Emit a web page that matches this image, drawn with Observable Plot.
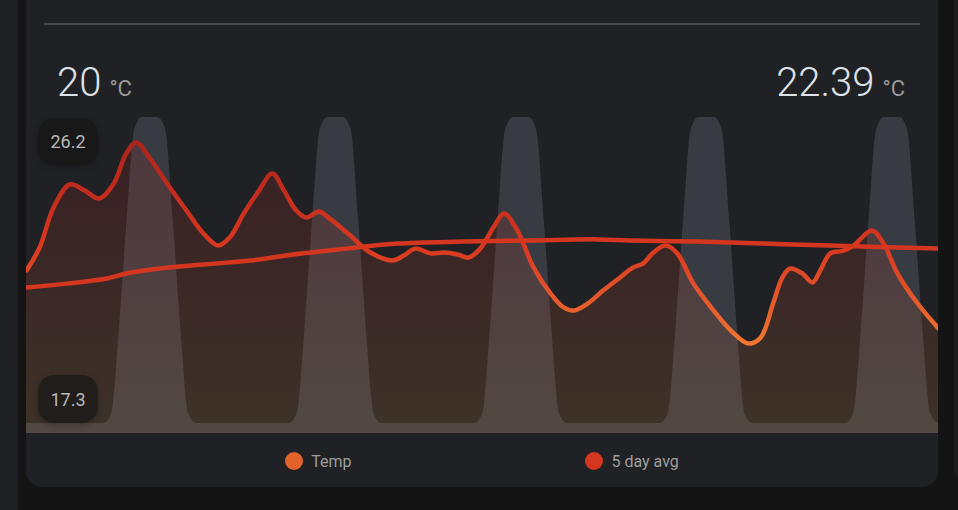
<!DOCTYPE html>
<html>
<head>
<meta charset="utf-8">
<script src="https://cdn.jsdelivr.net/npm/d3@7"></script>
<script src="https://cdn.jsdelivr.net/npm/@observablehq/plot@0.6"></script>
<style>
  html, body { margin: 0; padding: 0; width: 958px; height: 510px; overflow: hidden; background: #141414; font-family: Roboto, "Noto Sans", sans-serif; }
  .abs { position: absolute; }
  #leftCard { left: 0; top: 0; width: 18px; height: 510px; background: #1f2023; }
  #rightCard { left: 954px; top: 0; width: 20px; height: 482px; background: #1d1e20; border-radius: 0 0 0 14px; }
  #card { left: 26px; top: -20px; width: 912px; height: 507px; background: #202124; border-radius: 0 0 16px 16px; }
  #divider { left: 44px; top: 23px; width: 876px; height: 2px; background: #47484b; }
  .state { display: flex; align-items: baseline; top: 63px; }
  .state .val { font-size: 40px; line-height: 40px; font-weight: 300; color: #dde2e8; }
  .state .uom { font-size: 22px; line-height: 22px; font-weight: 400; color: #9b9b9b; margin-left: 8px; }
  #stateL { left: 57px; }
  #stateR { right: 53px; }
  #chart { left: 26px; top: 117px; width: 912px; height: 316px; overflow: hidden; }
  #chart svg { position: absolute; left: 0; top: 0; background: transparent; }
  .badge { left: 38px; width: 60px; border-radius: 16px; background: rgba(20,20,20,0.68); box-shadow: 0 2px 6px rgba(0,0,0,0.25); color: #b8b8b8; font-size: 18px; display: flex; align-items: center; justify-content: center; }
  #bMax { top: 118px; height: 47px; }
  #bMin { top: 375px; height: 48px; }
  #legend { left: 26px; top: 451px; width: 912px; height: 20px; display: flex; justify-content: center; align-items: center; gap: 234px; }
  .item { display: flex; align-items: center; gap: 8px; color: #9e9e9e; font-size: 16px; }
  .dot { width: 18px; height: 18px; border-radius: 50%; }
</style>
</head>
<body>
<div id="leftCard" class="abs"></div>
<div id="rightCard" class="abs"></div>
<div id="card" class="abs"></div>
<div id="divider" class="abs"></div>
<div id="stateL" class="abs state"></div>
<div id="stateR" class="abs state"></div>
<div id="chart" class="abs"></div>
<div id="bMax" class="abs badge"></div>
<div id="bMin" class="abs badge"></div>
<div id="legend" class="abs"></div>
<script>
// ---- data (hours from start of the 5-day window) ----
const tempHours = [0,1.7,3.5,5.6,7.5,9.4,11.3,12.9,14.2,15.9,18.1,20.7,22.9,24.8,26.3,28.1,30.1,31.8,33.3,34.9,36.2,37.8,39.2,41.6,44.5,47.4,48.8,50.3,52.3,54.0,55.8,57.2,58.7,60.4,61.8,63.5,65.6,67.8,69.5,70.8,72.6,74.6,76.8,78.5,79.8,81.1,82.7,84.2,86.3,88.9,91.1,93.4,95.0,96.6,97.8,98.8,100.4,101.7,102.7,104.0,105.7,107.0,109.4,110.9,112.7,115.3,118];
const tempValues = [21.63,22.45,23.88,24.70,24.49,24.20,24.74,25.81,26.2,25.66,24.77,23.77,22.95,22.52,22.81,23.66,24.49,25.09,24.49,23.77,23.52,23.74,23.49,22.95,22.27,21.99,22.16,22.41,22.24,22.27,22.20,22.09,22.41,23.16,23.66,23.06,21.74,20.81,20.31,20.20,20.45,20.91,21.38,21.74,21.88,22.27,22.52,22.24,21.16,20.20,19.49,19.02,19.24,20.45,21.38,21.70,21.52,21.20,21.63,22.24,22.34,22.52,23.06,22.59,21.52,20.45,19.56];
const avgHours = [0,5.2,10.4,12.9,17.2,25.9,30.1,34.5,41.4,48,56.5,65.2,73.9,78.1,86.8,95.3,104,118];
const avgValues = [21.02,21.16,21.34,21.52,21.70,21.91,22.02,22.20,22.41,22.59,22.66,22.70,22.74,22.70,22.66,22.59,22.52,22.41];
// night indicator, hourly mean (0..1), hours 0..118
const nightValues = [
  0,0,0,0,0,0,0,0,0,0,0,
  0.03,0.3,0.66,0.96,1,1,1,0.96,0.66,0.3,0.03,
  0,0,0,0,0,0,0,0,0,0,0,0,0,
  0.03,0.3,0.66,0.96,1,1,1,0.96,0.66,0.3,0.03,
  0,0,0,0,0,0,0,0,0,0,0,0,0,
  0.03,0.3,0.66,0.96,1,1,1,0.96,0.66,0.3,0.03,
  0,0,0,0,0,0,0,0,0,0,0,0,0,
  0.03,0.3,0.66,0.96,1,1,1,0.96,0.66,0.3,0.03,
  0,0,0,0,0,0,0,0,0,0,0,0,0,
  0.03,0.3,0.66,0.96,1,1,1,0.96,0.66,0.3,0.03,
  0
];
const stateLabels = ["20", "22.39"];
const unitLabel = "°C";
const boundLabels = ["26.2", "17.3"];
const seriesNames = ["Temp", "5 day avg"];
const seriesColors = ["#e2632a", "#d5361f"];

// ---- scales ----
const xDomain = [0, 118];
const tempDomain = [15.807, 27.093];
const bandDomain = [-0.0327, 1];
const W = 912, H = 316;

const tempData = tempHours.map((h, i) => ({h, v: tempValues[i]}));
const avgData = avgHours.map((h, i) => ({h, v: avgValues[i]}));
const nightData = nightValues.map((n, i) => ({h: i, n}));

const lineStops = [[26.2, "#ac251a"], [24.5, "#c22c1d"], [22.5, "#d8381f"], [21, "#e2512a"], [19, "#ef7631"]];
const fillStops = [[26, "#c52a22"], [24, "#cd2f24"], [20.5, "#d95c36"], [16, "#e2933f"]];

function gradientDefs(index, scales) {
  const y = scales.y;
  const defs = d3.create("svg:defs");
  const mk = (id, stops) => {
    const y0 = y(stops[0][0]), y1 = y(stops[stops.length - 1][0]);
    const g = defs.append("linearGradient").attr("id", id).attr("gradientUnits", "userSpaceOnUse")
      .attr("x1", 0).attr("x2", 0).attr("y1", y0).attr("y2", y1);
    stops.forEach(([t, c]) => g.append("stop").attr("offset", (y(t) - y0) / (y1 - y0)).attr("stop-color", c));
  };
  mk("tempLine", lineStops);
  mk("tempFill", fillStops);
  return defs.node();
}

const bandPlot = Plot.plot({
  width: W, height: H, margin: 0,
  x: {domain: xDomain, axis: null},
  y: {domain: bandDomain, axis: null},
  marks: [
    Plot.areaY(nightData, {x: "h", y1: bandDomain[0], y2: "n", curve: "monotone-x", fill: "#808a9c", fillOpacity: 0.25})
  ]
});

const tempPlot = Plot.plot({
  width: W, height: H, margin: 0,
  x: {domain: xDomain, axis: null},
  y: {domain: tempDomain, axis: null},
  marks: [
    gradientDefs,
    Plot.areaY(tempData, {x: "h", y1: tempDomain[0], y2: "v", curve: "catmull-rom", fill: "url(#tempFill)", fillOpacity: 0.15}),
    Plot.lineY(tempData, {x: "h", y: "v", curve: "catmull-rom", stroke: "url(#tempLine)", strokeWidth: 4.5, strokeLinecap: "round", strokeLinejoin: "round"}),
    Plot.lineY(avgData, {x: "h", y: "v", curve: "catmull-rom", stroke: seriesColors[1], strokeWidth: 4.5, strokeLinecap: "round", strokeLinejoin: "round"})
  ]
});

const chart = document.getElementById("chart");
chart.appendChild(bandPlot);
chart.appendChild(tempPlot);

// ---- text ----
function setState(id, val) {
  const el = document.getElementById(id);
  el.innerHTML = "";
  const v = document.createElement("span"); v.className = "val"; v.textContent = val;
  const u = document.createElement("span"); u.className = "uom"; u.textContent = unitLabel;
  el.appendChild(v); el.appendChild(u);
}
setState("stateL", stateLabels[0]);
setState("stateR", stateLabels[1]);
document.getElementById("bMax").textContent = boundLabels[0];
document.getElementById("bMin").textContent = boundLabels[1];

const legend = document.getElementById("legend");
seriesNames.forEach((name, i) => {
  const it = document.createElement("div"); it.className = "item";
  const d = document.createElement("div"); d.className = "dot"; d.style.background = seriesColors[i];
  const t = document.createElement("span"); t.textContent = name;
  it.appendChild(d); it.appendChild(t); legend.appendChild(it);
});
</script>
</body>
</html>
